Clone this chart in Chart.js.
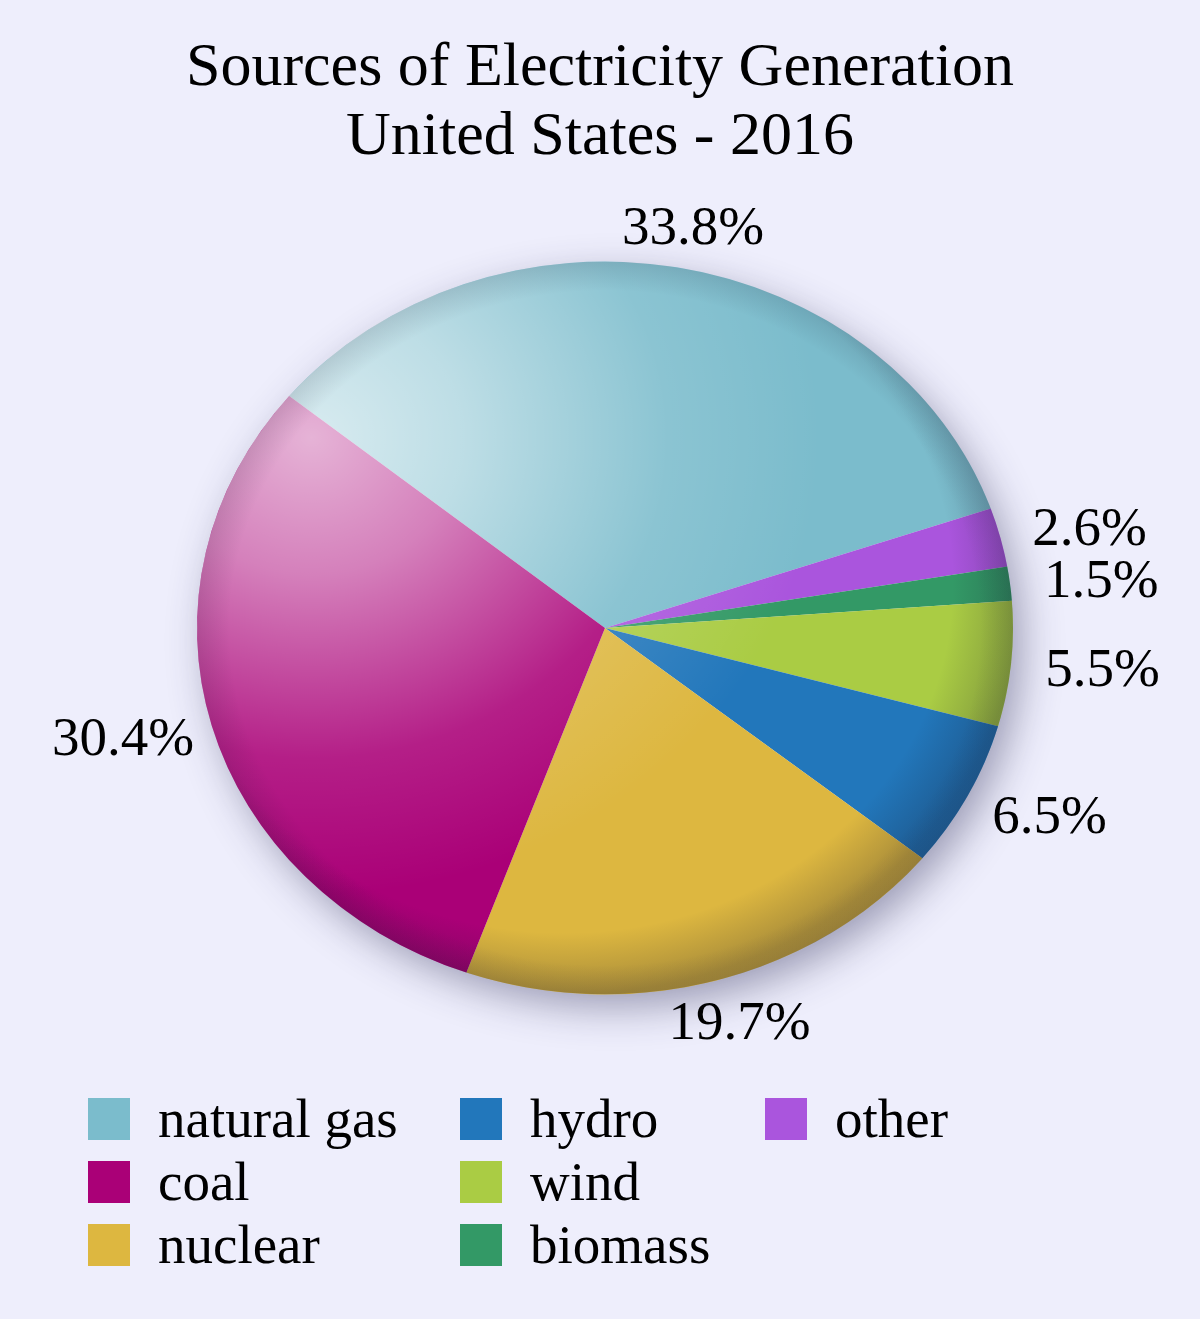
<!DOCTYPE html>
<html>
<head>
<meta charset="utf-8">
<script src="https://cdn.jsdelivr.net/npm/chart.js@4.4.0/dist/chart.umd.min.js"></script>
<style>
  html, body { margin: 0; padding: 0; background: #eeeefc; }
  canvas { display: block; }
</style>
</head>
<body>
<canvas id="pie" width="1200" height="1319"></canvas>
<script>
// slices, clockwise starting at the natural gas edge
const categories = ['natural gas', 'other', 'biomass', 'wind', 'hydro', 'nuclear', 'coal'];
const shares = [33.8, 2.6, 1.5, 5.5, 6.5, 19.7, 30.4];
const colors = ['#7bbccc', '#aa55dd', '#339966', '#aacc44', '#2277bb', '#ddb740', '#aa0077'];
const legendOrder = ['natural gas', 'coal', 'nuclear', 'hydro', 'wind', 'biomass', 'other'];
const titleLines = ['Sources of Electricity Generation', 'United States - 2016'];

const BG = '#eeeefc';
const FONT = "'Liberation Serif', 'Times New Roman', serif";
const SQUASH = 0.898; // the pie is an ellipse, flattened vertically

function pieGeom(chart) {
    const arc = chart.getDatasetMeta(0).data[0];
    return { x: arc.x, y: arc.y, r: arc.outerRadius };
}

const ellipsePie = {
    id: 'ellipsePie',
    beforeDraw(chart) {
        const ctx = chart.ctx;
        ctx.save();
        ctx.fillStyle = BG;
        ctx.fillRect(0, 0, chart.width, chart.height);
        ctx.restore();
    },
    beforeDatasetsDraw(chart) {
        const ctx = chart.ctx;
        const { x, y, r } = pieGeom(chart);

        // soft drop shadow under the pie
        ctx.save();
        ctx.shadowColor = 'rgba(50, 50, 90, 0.45)';
        ctx.shadowBlur = 40;
        ctx.shadowOffsetX = 10;
        ctx.shadowOffsetY = 14;
        ctx.fillStyle = BG;
        ctx.beginPath();
        ctx.ellipse(x, y, r - 2, r * SQUASH - 2, 0, 0, Math.PI * 2);
        ctx.fill();
        ctx.restore();

        // squash everything the pie draws
        ctx.save();
        ctx.translate(x, y);
        ctx.scale(1, SQUASH);
        ctx.translate(-x, -y);
    },
    afterDatasetsDraw(chart) {
        const ctx = chart.ctx;
        const { x, y, r } = pieGeom(chart);
        ctx.save();
        ctx.beginPath();
        ctx.arc(x, y, r, 0, Math.PI * 2);
        ctx.clip();

        // glossy highlight, upper left
        const hx = x - 0.72 * r, hy = y - 0.52 * r;
        let g = ctx.createRadialGradient(hx, hy, 0, hx, hy, 1.25 * r);
        g.addColorStop(0, 'rgba(255,255,255,0.7)');
        g.addColorStop(0.3, 'rgba(255,255,255,0.5)');
        g.addColorStop(0.7, 'rgba(255,255,255,0.12)');
        g.addColorStop(1, 'rgba(255,255,255,0)');
        ctx.fillStyle = g;
        ctx.fillRect(x - r, y - r, 2 * r, 2 * r);

        // darker rim, heavier at lower right
        const sx = x - 0.1 * r, sy = y - 0.12 * r;
        g = ctx.createRadialGradient(sx, sy, 0, sx, sy, 1.12 * r);
        g.addColorStop(0, 'rgba(20,20,40,0)');
        g.addColorStop(0.85, 'rgba(20,20,40,0)');
        g.addColorStop(1, 'rgba(20,20,40,0.26)');
        ctx.fillStyle = g;
        ctx.fillRect(x - r, y - r, 2 * r, 2 * r);

        g = ctx.createRadialGradient(x, y, 0, x, y, r);
        g.addColorStop(0, 'rgba(20,20,40,0)');
        g.addColorStop(0.92, 'rgba(20,20,40,0)');
        g.addColorStop(1, 'rgba(20,20,40,0.12)');
        ctx.fillStyle = g;
        ctx.fillRect(x - r, y - r, 2 * r, 2 * r);

        ctx.restore();
        ctx.restore(); // end squash
    },
    afterDraw(chart) {
        const ctx = chart.ctx;
        const meta = chart.getDatasetMeta(0);
        ctx.save();
        ctx.fillStyle = '#000';
        ctx.textAlign = 'center';
        ctx.textBaseline = 'alphabetic';

        // title
        ctx.font = `62px ${FONT}`;
        ctx.fillText(titleLines[0], 600, 85);
        ctx.fillText(titleLines[1], 600, 154);

        // percentage labels on a wider ellipse around the pie
        ctx.font = `55px ${FONT}`;
        meta.data.forEach((arc, i) => {
            const a = (arc.startAngle + arc.endAngle) / 2;
            const txt = shares[i].toFixed(1) + '%';
            const tx = arc.x + Math.cos(a) * (arc.outerRadius + 92);
            const ty = arc.y + Math.sin(a) * (arc.outerRadius * SQUASH + 42);
            ctx.fillText(txt, tx, ty + 18);
        });

        // legend, three rows per column
        const colX = [88, 460, 765];
        const rowTop = 1098, rowStep = 63, box = 42;
        ctx.textAlign = 'left';
        legendOrder.forEach((name, k) => {
            const i = categories.indexOf(name);
            const lx = colX[Math.floor(k / 3)];
            const ly = rowTop + (k % 3) * rowStep;
            ctx.fillStyle = colors[i];
            ctx.fillRect(lx, ly, box, box);
            ctx.fillStyle = '#000';
            ctx.fillText(name, lx + 70, ly + 39);
        });
        ctx.restore();
    }
};

new Chart(document.getElementById('pie'), {
    type: 'pie',
    data: {
        labels: categories,
        datasets: [{
            data: shares,
            backgroundColor: colors,
            borderWidth: 0,
            hoverOffset: 0,
            offset: 0
        }]
    },
    options: {
        responsive: false,
        animation: false,
        events: [],
        rotation: -50.7,
        layout: { padding: { left: 197, right: 187, top: 220, bottom: 283 } },
        plugins: {
            legend: { display: false },
            title: { display: false },
            tooltip: { enabled: false }
        }
    },
    plugins: [ellipsePie]
});
</script>
</body>
</html>
